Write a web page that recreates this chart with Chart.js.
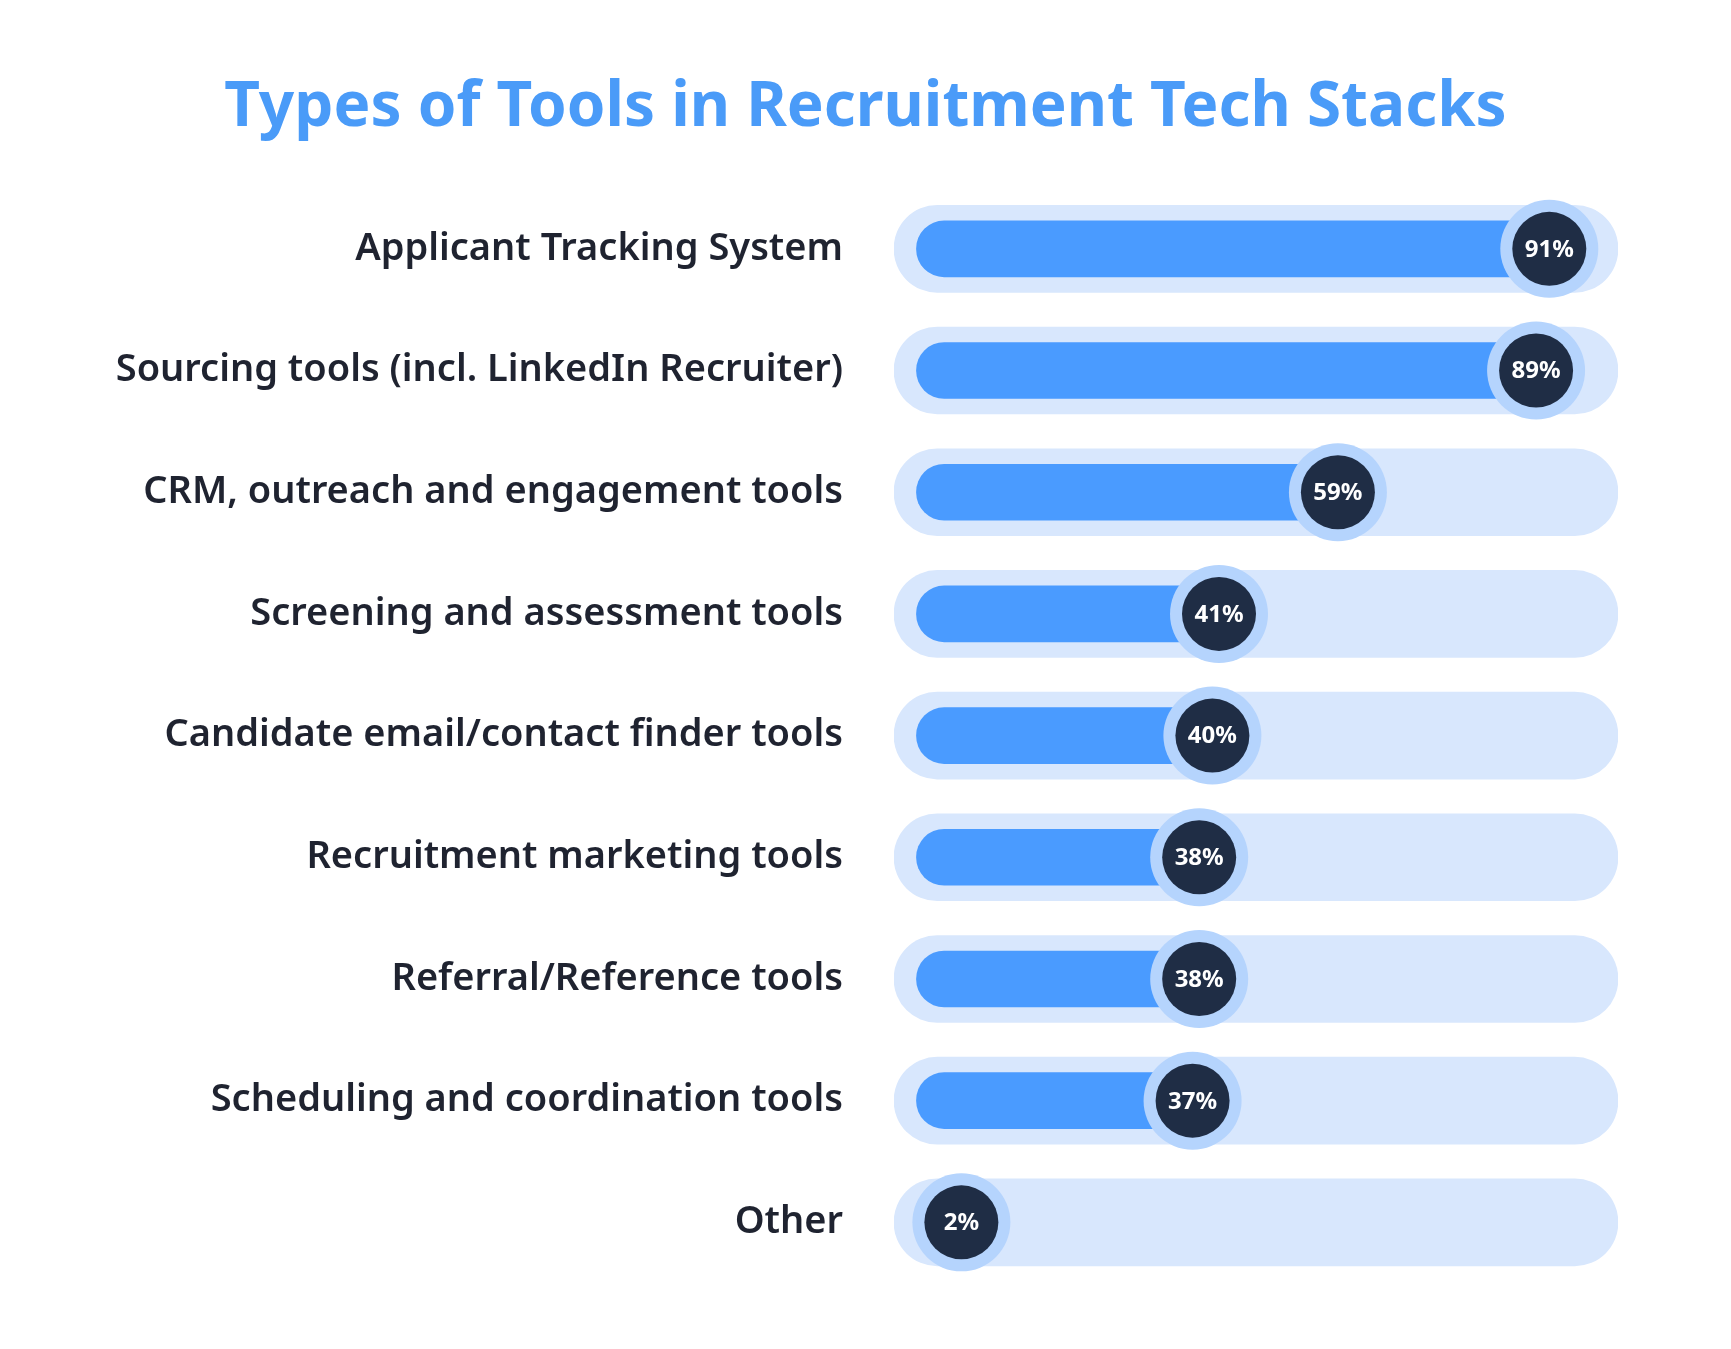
<!DOCTYPE html>
<html><head><meta charset="utf-8">
<script src="https://cdn.jsdelivr.net/npm/chart.js@4"></script>
<style>html,body{margin:0;background:#fff}#w{width:1731px;height:1349px}</style>
</head><body><div id="w"><canvas id="c"></canvas></div>
<script>
const categories = ["Applicant Tracking System","Sourcing tools (incl. LinkedIn Recruiter)","CRM, outreach and engagement tools","Screening and assessment tools","Candidate email/contact finder tools","Recruitment marketing tools","Referral/Reference tools","Scheduling and coordination tools","Other"];
const values = [91,89,59,41,40,38,38,37,2];
const title = "Types of Tools in Recruitment Tech Stacks";
const X_MIN = -8.2, X_MAX = 101.4, BAR_START = -4.8;

const overlay = {
  id:'overlay',
  afterDatasetsDraw(chart){
    const ctx = chart.ctx, xs = chart.scales.x, ys = chart.scales.y;
    values.forEach((v,i)=>{
      const x = xs.getPixelForValue(v), y = ys.getPixelForValue(i);
      ctx.beginPath(); ctx.arc(x,y,49,0,Math.PI*2); ctx.fillStyle='#b5d4fd'; ctx.fill();
      ctx.beginPath(); ctx.arc(x,y,37,0,Math.PI*2); ctx.fillStyle='#1f2d45'; ctx.fill();
      ctx.fillStyle='#fff'; ctx.font='bold 24px "Noto Sans"'; ctx.textAlign='center'; ctx.textBaseline='middle';
      ctx.fillText(v+'%', x, y+1);
    });
  },
  afterDraw(chart){
    const ctx = chart.ctx;
    ctx.fillStyle='#4a9bf8'; ctx.font='bold 62px "Noto Sans"'; ctx.textAlign='center'; ctx.textBaseline='middle';
    ctx.fillText(title, 1731/2, 108);
  }
};

new Chart(document.getElementById('c'),{
  type:'bar',
  data:{labels:categories,datasets:[
    {data:values.map(v=>[BAR_START,v]),backgroundColor:'#4a9bff',borderRadius:28,borderSkipped:false,barThickness:56,grouped:false,order:1},
    {data:values.map(()=>[X_MIN,X_MAX]),backgroundColor:'#d8e7fd',borderRadius:44,borderSkipped:false,barThickness:87,grouped:false,order:2}
  ]},
  options:{
    indexAxis:'y',responsive:true,maintainAspectRatio:false,animation:false,
    layout:{padding:{top:188,bottom:58,left:0,right:113}},
    plugins:{legend:{display:false},tooltip:{enabled:false}},
    scales:{
      x:{min:X_MIN,max:X_MAX,display:false},
      y:{grid:{display:false},border:{display:false},
        ticks:{color:'#1f2330',font:{family:'"Noto Sans"',size:38,weight:'600'},padding:43},
        afterFit(s){s.width=894;}}
    }
  },
  plugins:[overlay]
});
</script></body></html>
